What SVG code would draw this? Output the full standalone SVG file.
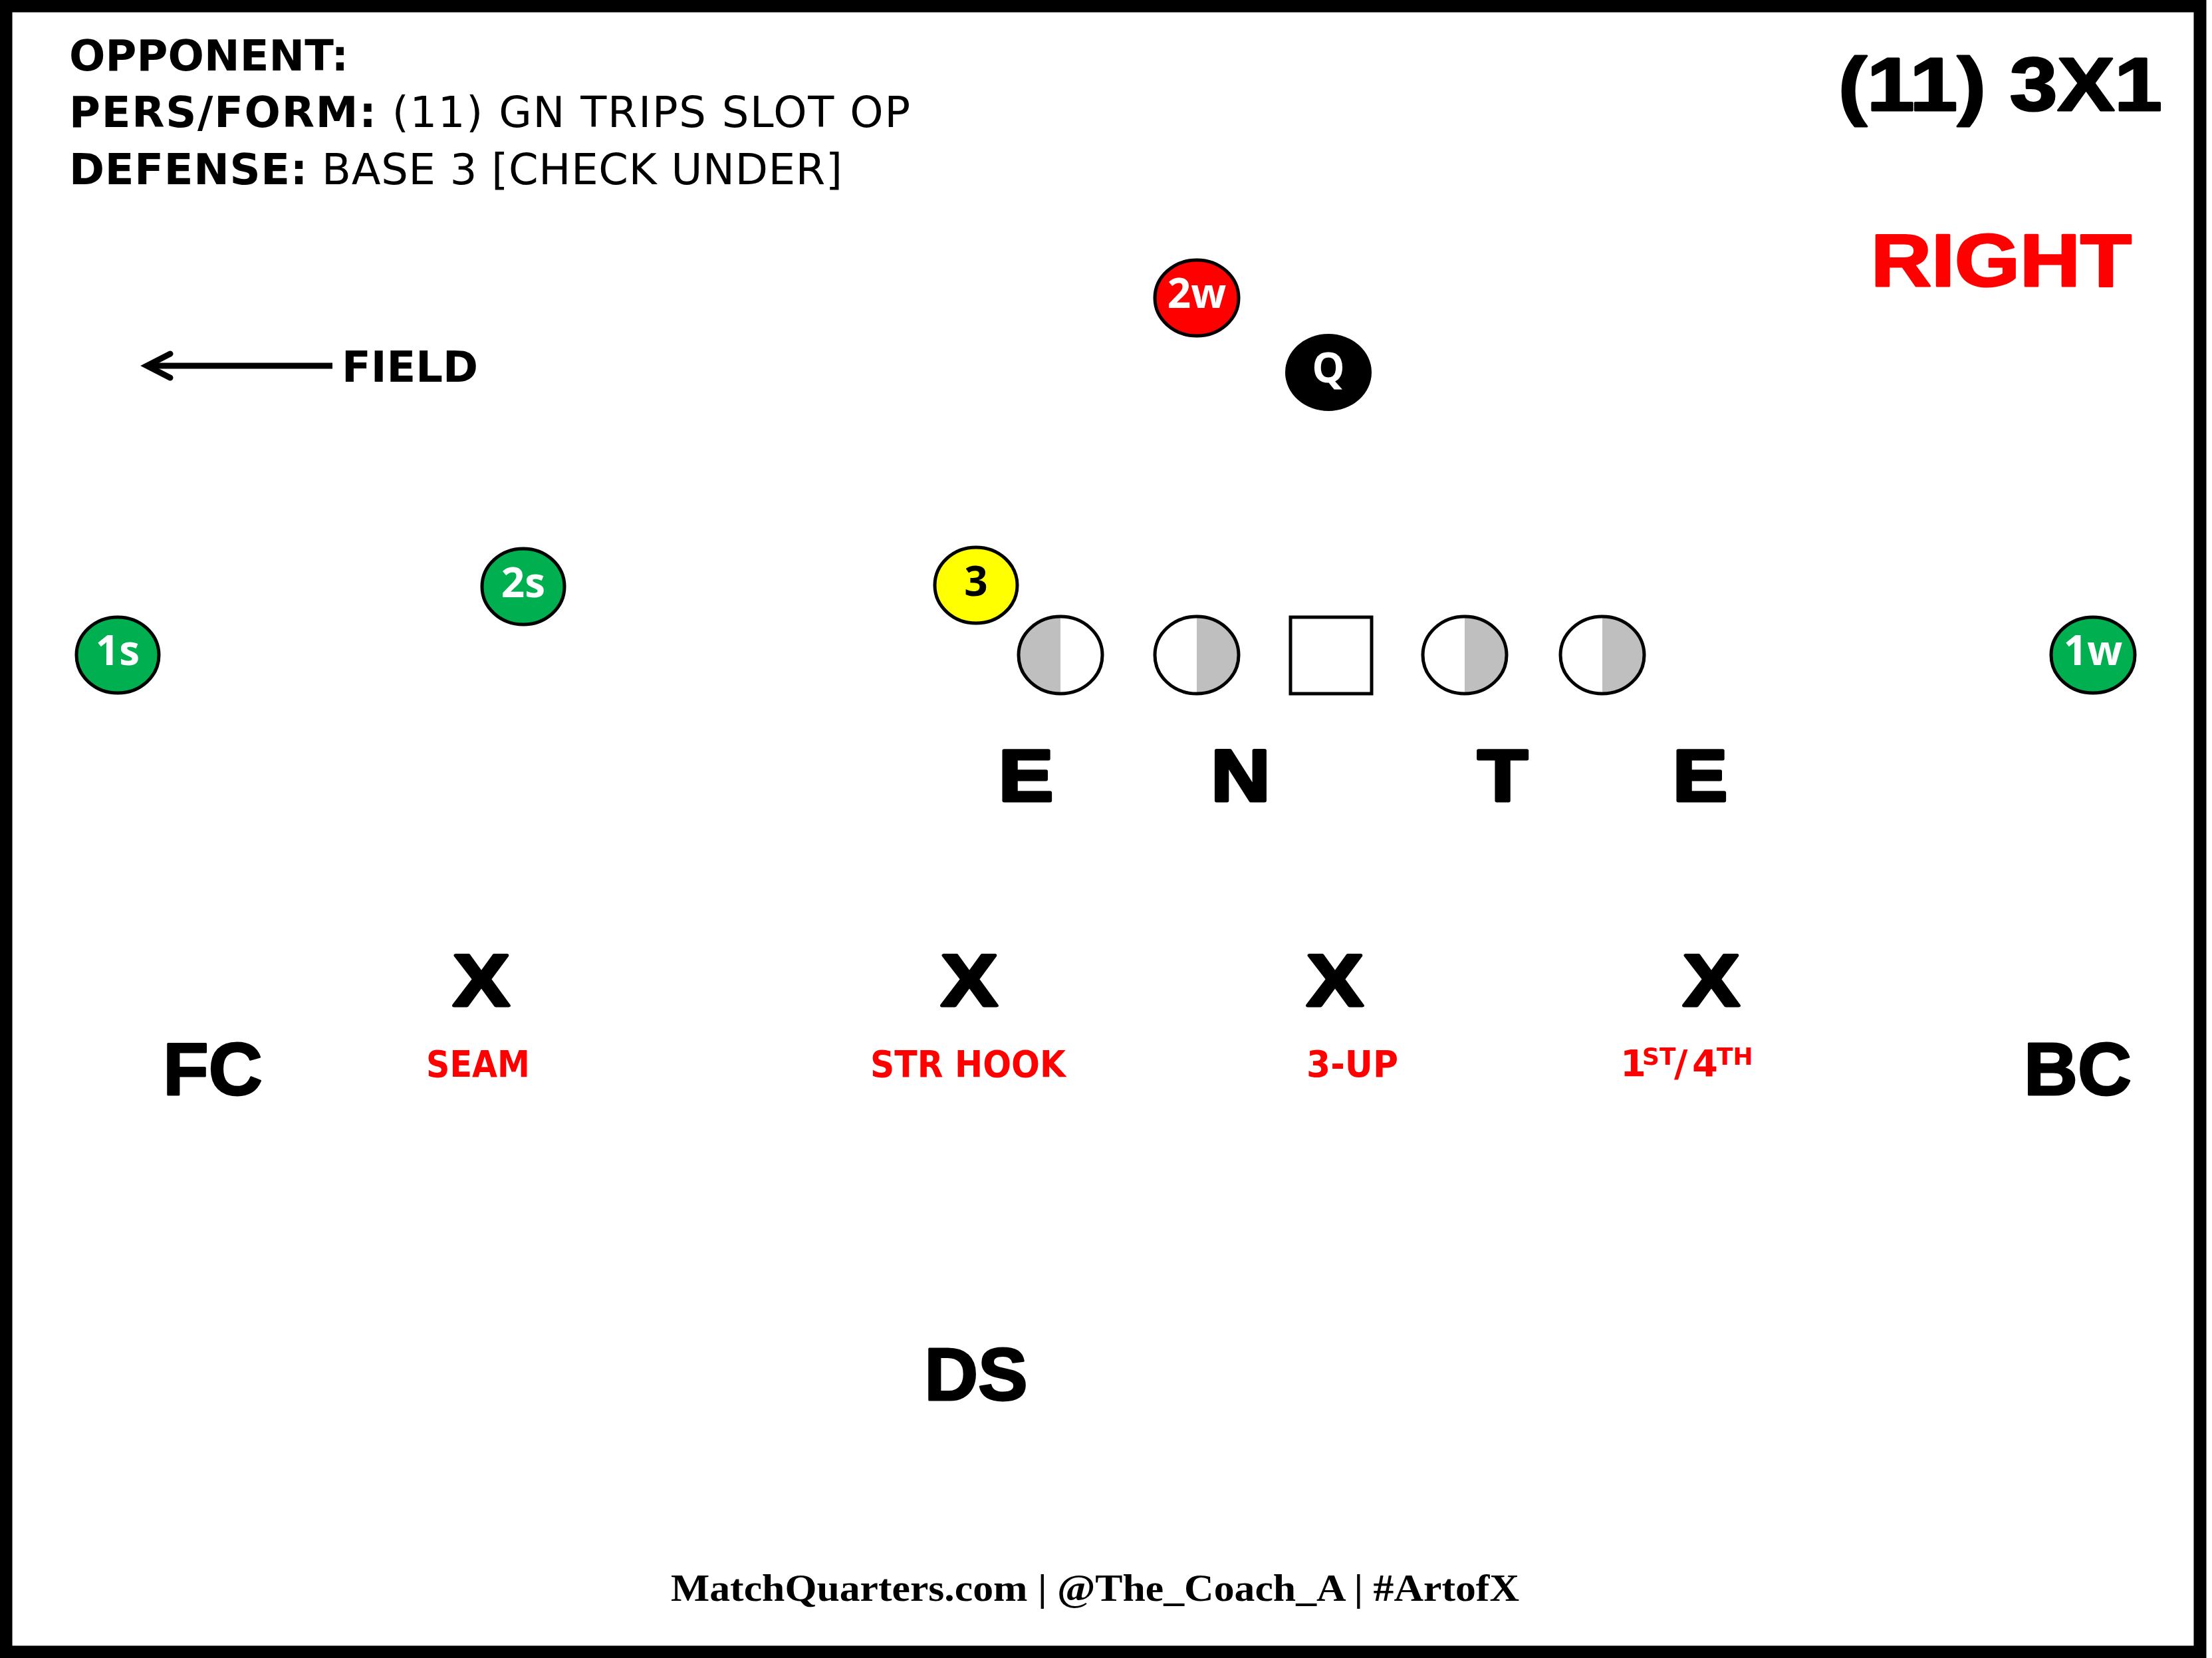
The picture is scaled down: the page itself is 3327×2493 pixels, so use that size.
<svg xmlns="http://www.w3.org/2000/svg" xmlns:xlink="http://www.w3.org/1999/xlink" width="3327" height="2493" viewBox="0 0 3327 2493">
<style>
.hdr{font-family:"DejaVu Sans","Verdana",sans-serif;font-size:64px;fill:#000}
.b{font-weight:bold}
.big{font-family:"Liberation Sans",Arial,sans-serif;font-weight:bold;fill:#000;stroke:#000;stroke-width:3;stroke-linejoin:round}
.lab{font-family:"DejaVu Sans",Verdana,sans-serif;font-weight:bold;font-size:56px;fill:#FF0000}
.pl{font-family:"Open Sans","Noto Sans",sans-serif;font-weight:bold;font-size:62px;text-anchor:middle}
.ell{stroke:#000;stroke-width:5}
.w{fill:#fff}
.k{fill:#000}
</style>
<defs>
<g id="lineL">
<ellipse cx="0" cy="0" rx="63" ry="58" fill="#fff"/>
<path d="M0,-58 A63,58 0 0 0 0,58 Z" fill="#BFBFBF"/>
<ellipse cx="0" cy="0" rx="63" ry="58" fill="none" class="ell"/>
</g>
<g id="lineR">
<ellipse cx="0" cy="0" rx="63" ry="58" fill="#fff"/>
<path d="M0,-58 A63,58 0 0 1 0,58 Z" fill="#BFBFBF"/>
<ellipse cx="0" cy="0" rx="63" ry="58" fill="none" class="ell"/>
</g>
</defs>
<rect x="0" y="0" width="3327" height="2493" fill="#fff"/>
<rect x="9" y="9" width="3300" height="2475" fill="none" stroke="#000" stroke-width="19"/>

<g id="header">
<text class="hdr b" x="104" y="106" textLength="420">OPPONENT:</text>
<text class="hdr" x="104" y="191" textLength="1265"><tspan class="b">PERS/FORM:</tspan> (11) GN TRIPS SLOT OP</text>
<text class="hdr" x="104" y="277" textLength="1163"><tspan class="b">DEFENSE:</tspan> BASE 3 [CHECK UNDER]</text>
</g>
<g id="title">
<text class="big" x="3252" y="166" font-size="113" text-anchor="end" textLength="487" lengthAdjust="spacingAndGlyphs">(11) 3X1</text>
</g>
<g id="side">
<text class="big" x="2814" y="430" font-size="112" style="fill:#FF0000;stroke:#FF0000" textLength="392" lengthAdjust="spacingAndGlyphs">RIGHT</text>
</g>

<g id="connectors">
<line x1="224" y1="550" x2="500" y2="550" stroke="#000" stroke-width="9"/>
<polyline points="256,532 221,550 256,568" fill="none" stroke="#000" stroke-width="9" stroke-linecap="round" stroke-linejoin="miter"/>
</g>
<g id="field">
<text class="hdr b" x="514" y="574" font-size="66">FIELD</text>
</g>

<g id="p2w" transform="translate(1800,448)">
<ellipse rx="63" ry="57" fill="#FF0000" class="ell"/>
<text class="pl w" y="15">2w</text>
</g>
<g id="pQ" transform="translate(1998,560)">
<ellipse rx="65" ry="58" fill="#000"/>
<text class="pl w" y="15">Q</text>
</g>
<g id="p3" transform="translate(1468,880)">
<ellipse rx="62" ry="57" fill="#FFFF00" class="ell"/>
<text class="pl k" y="16">3</text>
</g>
<g id="p2s" transform="translate(787,882)">
<ellipse rx="62" ry="57" fill="#00B050" class="ell"/>
<text class="pl w" y="16">2s</text>
</g>
<g id="p1s" transform="translate(177,985)">
<ellipse rx="62" ry="57" fill="#00B050" class="ell"/>
<text class="pl w" y="15">1s</text>
</g>
<g id="p1w" transform="translate(3148,985)">
<ellipse rx="63" ry="57" fill="#00B050" class="ell"/>
<text class="pl w" y="15">1w</text>
</g>

<g id="ol1" transform="translate(1595,985)"><use xlink:href="#lineL" href="#lineL"/></g>
<g id="ol2" transform="translate(1800,985)"><use xlink:href="#lineR" href="#lineR"/></g>
<g id="center"><rect x="1941" y="928" width="122" height="115" fill="#fff" stroke="#000" stroke-width="5"/></g>
<g id="ol4" transform="translate(2203,985)"><use xlink:href="#lineR" href="#lineR"/></g>
<g id="ol5" transform="translate(2410,985)"><use xlink:href="#lineR" href="#lineR"/></g>

<g id="dl">
<text class="big" font-size="110" text-anchor="middle" transform="translate(1543,1204) scale(1.12,1)" style="stroke-width:5">E</text>
<text class="big" font-size="110" text-anchor="middle" transform="translate(1866,1204) scale(1.12,1)" style="stroke-width:5">N</text>
<text class="big" font-size="110" text-anchor="middle" transform="translate(2260,1204) scale(1.12,1)" style="stroke-width:5">T</text>
<text class="big" font-size="110" text-anchor="middle" transform="translate(2557,1204) scale(1.12,1)" style="stroke-width:5">E</text>
</g>

<g id="lb">
<text class="big" font-size="110" text-anchor="middle" transform="translate(724,1512) scale(1.15,1)" style="stroke-width:5">X</text>
<text class="big" font-size="110" text-anchor="middle" transform="translate(1458,1512) scale(1.15,1)" style="stroke-width:5">X</text>
<text class="big" font-size="110" text-anchor="middle" transform="translate(2008,1512) scale(1.15,1)" style="stroke-width:5">X</text>
<text class="big" font-size="110" text-anchor="middle" transform="translate(2574,1512) scale(1.15,1)" style="stroke-width:5">X</text>
</g>
<g id="labels">
<text class="lab" x="641" y="1619" textLength="156" lengthAdjust="spacingAndGlyphs">SEAM</text>
<text class="lab" x="1309" y="1619" textLength="294" lengthAdjust="spacingAndGlyphs">STR HOOK</text>
<text class="lab" x="1965" y="1619" textLength="138" lengthAdjust="spacingAndGlyphs">3-UP</text>
<text class="lab" x="2437" y="1618">1<tspan x="2470" y="1601" font-size="36">ST</tspan><tspan x="2518" y="1618">/</tspan><tspan x="2545" y="1618">4</tspan><tspan x="2582" y="1601" font-size="36">TH</tspan></text>
</g>

<g id="FC"><text class="big" font-size="112" x="320" y="1646" text-anchor="middle">FC</text></g>
<g id="BC"><text class="big" font-size="112" x="3125" y="1646" text-anchor="middle">BC</text></g>
<g id="DS"><text class="big" font-size="112" x="1468" y="2105" text-anchor="middle">DS</text></g>

<g id="footer">
<text x="1009" y="2407" font-family="'Liberation Serif','Times New Roman',serif" font-weight="bold" font-size="57" textLength="1276" lengthAdjust="spacingAndGlyphs">MatchQuarters.com | @The_Coach_A | #ArtofX</text>
</g>
</svg>
